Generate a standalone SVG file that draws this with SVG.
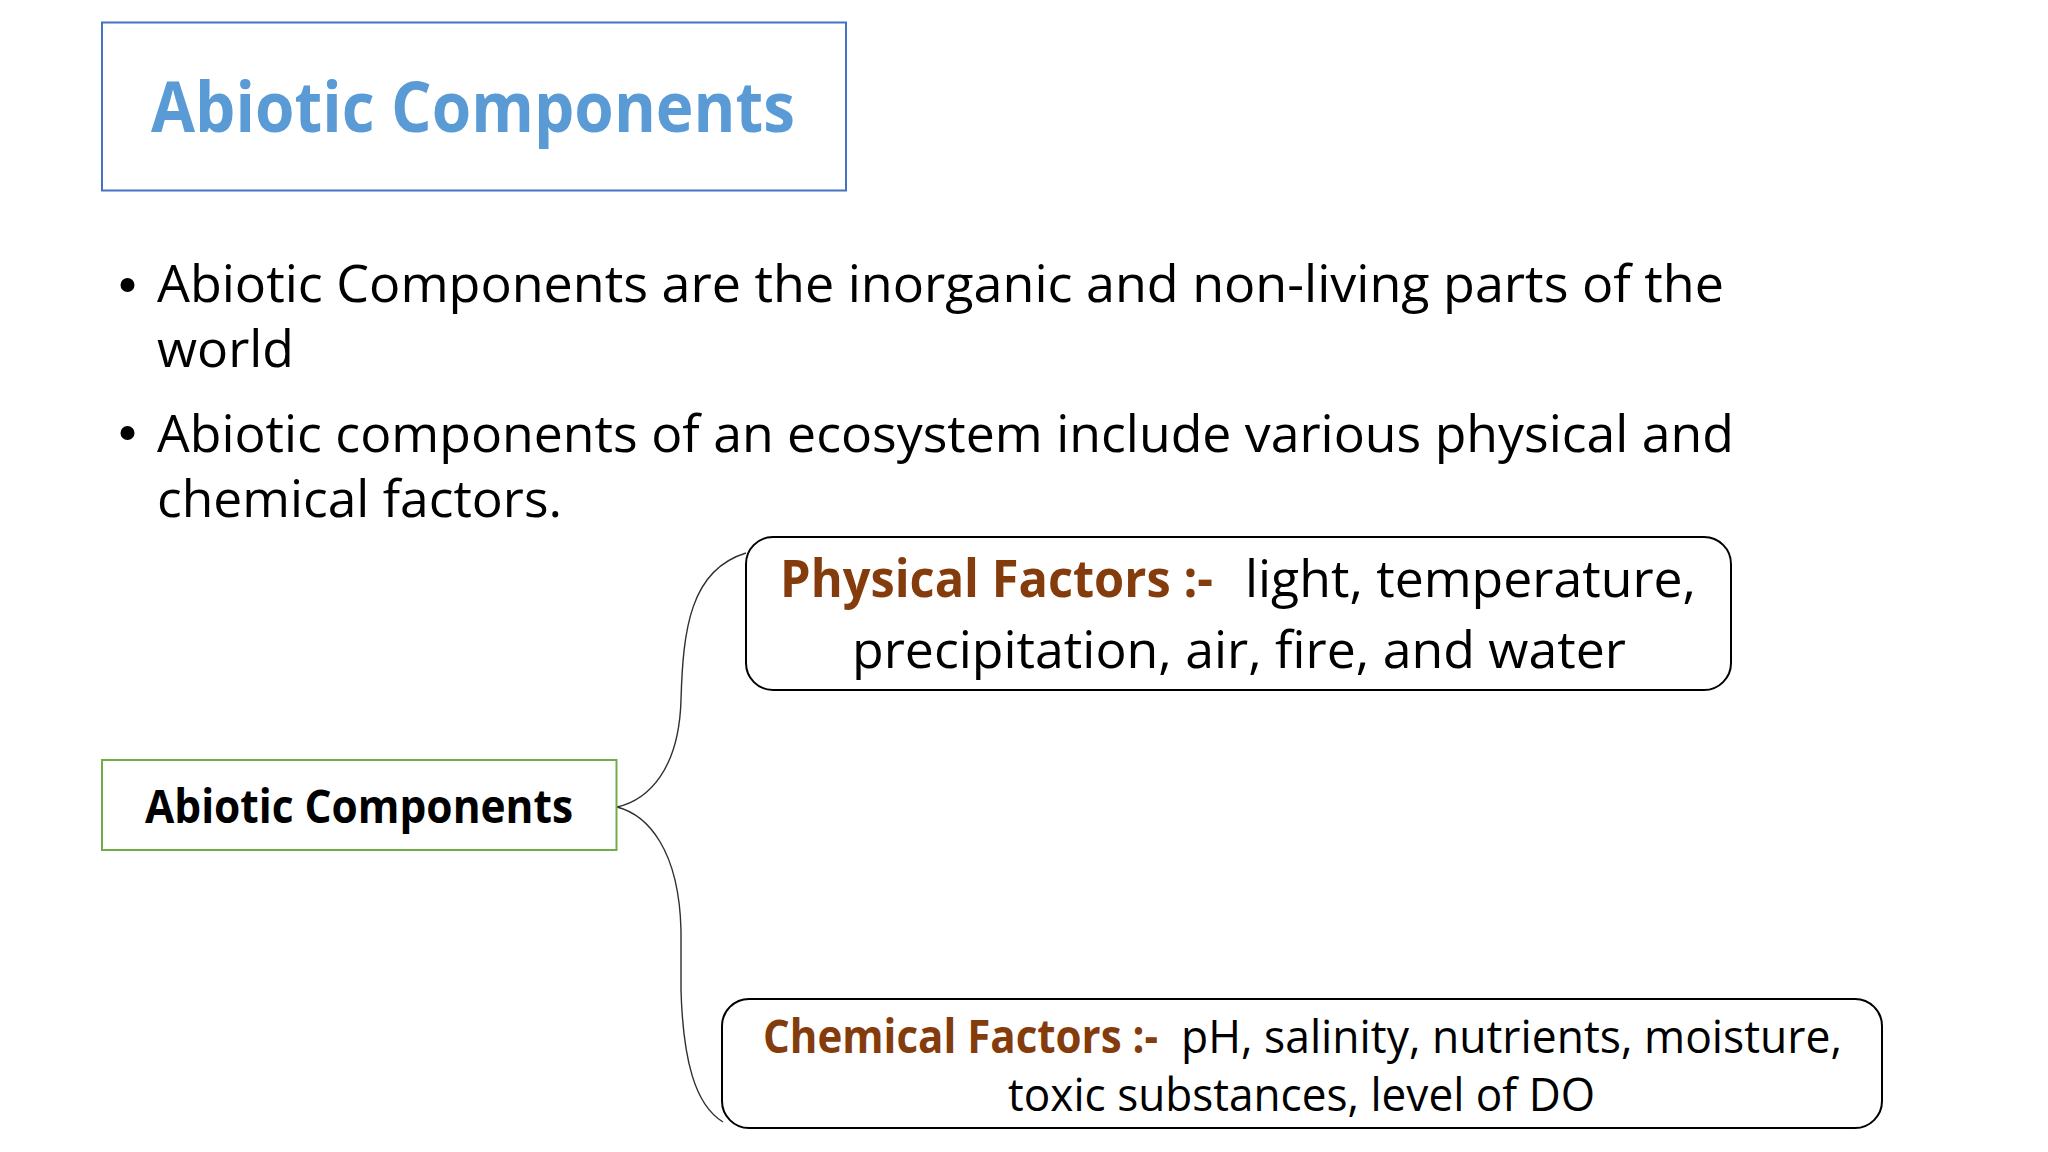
<svg xmlns="http://www.w3.org/2000/svg" width="2048" height="1152" viewBox="0 0 2048 1152">
<style>
.t{font-family:"Open Sans","Noto Sans","Liberation Sans",sans-serif;fill:#000}
.b{font-weight:bold}
.br{fill:#843C0C;font-weight:bold}
.con{fill:none;stroke:#303030;stroke-width:1.4}
.rbox{fill:#fff;stroke:#000;stroke-width:2}
</style>
<rect width="2048" height="1152" fill="#fff"/>
<g id="title">
<rect x="102" y="22.5" width="744" height="168" fill="#fff" stroke="#4472C4" stroke-width="2"/>
<text class="t b" x="151" y="132" font-size="70" style="fill:#5B9BD5" textLength="644" lengthAdjust="spacingAndGlyphs">Abiotic Components</text>
</g>
<g id="bullets">
<circle cx="127.5" cy="285" r="7" fill="#000"/>
<text class="t" x="157" y="302" font-size="52" textLength="1567" lengthAdjust="spacingAndGlyphs">Abiotic Components are the inorganic and non-living parts of the</text>
<text class="t" x="157" y="367" font-size="52" textLength="137" lengthAdjust="spacingAndGlyphs">world</text>
<circle cx="127.5" cy="433" r="7" fill="#000"/>
<text class="t" x="157" y="452" font-size="52" textLength="1577" lengthAdjust="spacingAndGlyphs">Abiotic components of an ecosystem include various physical and</text>
<text class="t" x="157" y="517" font-size="52" textLength="405" lengthAdjust="spacingAndGlyphs">chemical factors.</text>
</g>
<g id="connectors">
<path class="con" d="M617,807 C648,800 679,770 681,700 C683,630 690,570 746,553"/>
<path class="con" d="M617,807 C648,815 679,850 681,930 L681,990 C683,1060 695,1105 723,1122"/>
</g>
<g id="root">
<rect x="102" y="760" width="514.5" height="90" fill="#fff" stroke="#70AD47" stroke-width="2"/>
<text class="t b" x="145" y="823" font-size="46" textLength="428" lengthAdjust="spacingAndGlyphs">Abiotic Components</text>
</g>
<g id="physical">
<rect class="rbox" x="746" y="537" width="985" height="153" rx="27" ry="27"/>
<text class="t br" x="780" y="597" font-size="52" textLength="433" lengthAdjust="spacingAndGlyphs">Physical Factors :-</text>
<text class="t" x="1245" y="597" font-size="52" textLength="451" lengthAdjust="spacingAndGlyphs">light, temperature,</text>
<text class="t" x="852" y="668" font-size="52" textLength="774" lengthAdjust="spacingAndGlyphs">precipitation, air, fire, and water</text>
</g>
<g id="chemical">
<rect class="rbox" x="722" y="999" width="1160" height="129" rx="27" ry="27"/>
<text class="t br" x="763" y="1053" font-size="46" textLength="395" lengthAdjust="spacingAndGlyphs">Chemical Factors :-</text>
<text class="t" x="1181" y="1053" font-size="46" textLength="661" lengthAdjust="spacingAndGlyphs">pH, salinity, nutrients, moisture,</text>
<text class="t" x="1008" y="1111" font-size="46" textLength="587" lengthAdjust="spacingAndGlyphs">toxic substances, level of DO</text>
</g>
</svg>
